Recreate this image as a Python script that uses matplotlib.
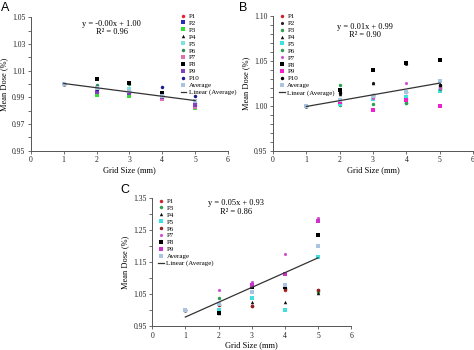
import numpy as np
import matplotlib
matplotlib.use("Agg")
import matplotlib.pyplot as plt
from matplotlib.ticker import MultipleLocator, FormatStrFormatter

plt.rcParams['font.family'] = ['Liberation Serif', 'DejaVu Serif']

grid = [1, 2, 3, 4, 5]

# Panel A
a_names = ['P1', 'P2', 'P3', 'P4', 'P5', 'P6', 'P7', 'P8', 'P9', 'P10', 'Average']
a_vals = [
    [1.00, 0.994, 0.993, 0.990, 0.984],
    [1.00, 0.996, 0.994, 0.990, 0.986],
    [1.00, 0.992, 0.991, 0.989, 0.982],
    [1.00, 0.998, 0.995, 0.991, 0.985],
    [1.00, 0.997, 0.996, 0.990, 0.987],
    [1.00, 0.999, 1.000, 0.992, 0.986],
    [1.00, 0.995, 0.993, 0.989, 0.983],
    [1.00, 1.004, 1.001, 0.993, 0.985],
    [1.00, 0.994, 0.993, 0.990, 0.984],
    [1.00, 0.996, 0.995, 0.998, 0.991],
    [1.00, 0.997, 0.995, 0.991, 0.987],
]
a_colors = ['#e8202a', '#2a2ab8', '#33dd33', '#111111', '#7fe0e0', '#2e8b57',
            '#e070b0', '#000000', '#8040c0', '#1a1a90', '#a8c4e0']
a_markers = ['o', 's', 's', '^', 's', 'o', 's', 's', 's', 'o', 's']
a_ticks = [0.95, 0.97, 0.99, 1.01, 1.03, 1.05]

# Panel B
b_names = ['P1', 'P2', 'P3', 'P4', 'P5', 'P6', 'P7', 'P8', 'P9', 'P10', 'Average']
b_vals = [
    [1.00, 1.003, 1.010, 1.008, 1.021],
    [1.00, 1.016, 1.025, 1.047, 1.022],
    [1.00, 1.001, 1.002, 1.003, 1.020],
    [1.00, 1.013, 1.026, 1.049, 1.024],
    [1.00, 1.002, 1.008, 1.010, 1.017],
    [1.00, 1.023, 1.011, 1.003, 1.019],
    [1.00, 1.006, 1.009, 1.025, 1.020],
    [1.00, 1.018, 1.040, 1.048, 1.051],
    [1.00, 1.004, 0.995, 1.007, 1.000],
    [1.00, 1.014, 1.012, 1.016, 1.023],
    [1.00, 1.007, 1.011, 1.016, 1.028],
]
b_colors = ['#d02030', '#222222', '#2e9e50', '#111111', '#40e0e0', '#2e9e50',
            '#d050d0', '#000000', '#ee22cc', '#000000', '#a8c4e0']
b_markers = ['o', '.', 'o', '^', 's', 'o', '.', 's', 's', 'o', 's']
b_ticks = [0.95, 1.00, 1.05, 1.10]

# Panel C
c_names = ['P1', 'P3', 'P4', 'P5', 'P6', 'P7', 'P8', 'P9', 'Average']
c_vals = [
    [1.00, 1.020, 1.014, 1.064, 1.062],
    [1.00, 1.037, 1.075, 1.070, 1.058],
    [1.00, 0.990, 1.026, 1.026, 1.054],
    [1.00, 1.000, 1.037, 1.000, 1.166],
    [1.00, 1.015, 1.014, 1.066, 1.062],
    [1.00, 1.063, 1.087, 1.176, 1.289],
    [1.00, 0.990, 1.072, 1.072, 1.234],
    [1.00, 1.018, 1.080, 1.113, 1.280],
    [1.00, 1.018, 1.057, 1.080, 1.200],
]
c_colors = ['#d02030', '#2e9e50', '#111111', '#40e0e0', '#902020',
            '#d050d0', '#000000', '#cc33cc', '#a8c4e0']
c_markers = ['o', 'o', '^', 's', 'o', '.', 's', 's', 's']
c_ticks = [0.95, 1.05, 1.15, 1.25, 1.35]

eq_a = ['y = -0.00x + 1.00', 'R\u00b2 = 0.96']
eq_b = ['y = 0.01x + 0.99', 'R\u00b2 = 0.90']
eq_c = ['y = 0.05x + 0.93', 'R\u00b2 = 0.86']


def panel(fig, rect, names, vals, colors, markers, ylim, yticks, ymin,
          eq, eqpos, legpos):
    ax = fig.add_axes(rect)
    for n, v, c, m in zip(names, vals, colors, markers):
        ms = 4.5 if m == '.' else 2.5
        ax.plot(grid, v, ls='none', marker=m, color=c, ms=ms, mew=0, label=n)
    k, b = np.polyfit(grid, vals[-1], 1)
    xs = np.array([grid[0], grid[-1]])
    ax.plot(xs, k * xs + b, color='#333333', lw=0.9, label='Linear (Average)')
    ax.set_xlim(0, 6)
    ax.set_ylim(*ylim)
    ax.xaxis.set_major_locator(MultipleLocator(1))
    ax.set_yticks(yticks)
    ax.yaxis.set_minor_locator(MultipleLocator(ymin))
    ax.yaxis.set_major_formatter(FormatStrFormatter('%.2f'))
    for s in ['top', 'right']:
        ax.spines[s].set_visible(False)
    for s in ['left', 'bottom']:
        ax.spines[s].set_color('#555555')
        ax.spines[s].set_linewidth(0.7)
    ax.tick_params(labelsize=5.5, length=2, width=0.6, colors='#555555',
                   labelcolor='#222222', pad=2)
    ax.tick_params(which='minor', length=2, width=0.6, colors='#555555')
    ax.set_xlabel('Grid Size (mm)', fontsize=6, labelpad=1)
    ax.set_ylabel('Mean Dose (%)', fontsize=6, labelpad=3)
    ax.text(eqpos[0], eqpos[1], eq[0] + '\n' + eq[1], transform=ax.transAxes,
            fontsize=6, ha='center', va='top', linespacing=1.1)
    ax.legend(loc='upper left', bbox_to_anchor=legpos, fontsize=5,
              frameon=False, handlelength=0.8, handletextpad=0.4,
              labelspacing=0.15, borderpad=0, borderaxespad=0)
    return ax


fig = plt.figure(figsize=(4.74, 3.5), dpi=100)

panel(fig, [0.065, 0.569, 0.416, 0.382], a_names, a_vals, a_colors, a_markers,
      (0.95, 1.05), a_ticks, 0.01, eq_a, (0.41, 0.98), (0.76, 1.03))
panel(fig, [0.576, 0.569, 0.422, 0.385], b_names, b_vals, b_colors, b_markers,
      (0.95, 1.10), b_ticks, 0.01, eq_b, (0.46, 0.95), (0.03, 1.02))
panel(fig, [0.321, 0.068, 0.42, 0.366], c_names, c_vals, c_colors, c_markers,
      (0.95, 1.35), c_ticks, 0.05, eq_c, (0.42, 0.99), (0.03, 1.0))

for lab, x, y in [('A', 0.003, 0.995), ('B', 0.505, 0.995), ('C', 0.255, 0.475)]:
    fig.text(x, y, lab, fontsize=9, family='Liberation Sans', ha='left', va='top')

fig.savefig('out.png', dpi=100)
